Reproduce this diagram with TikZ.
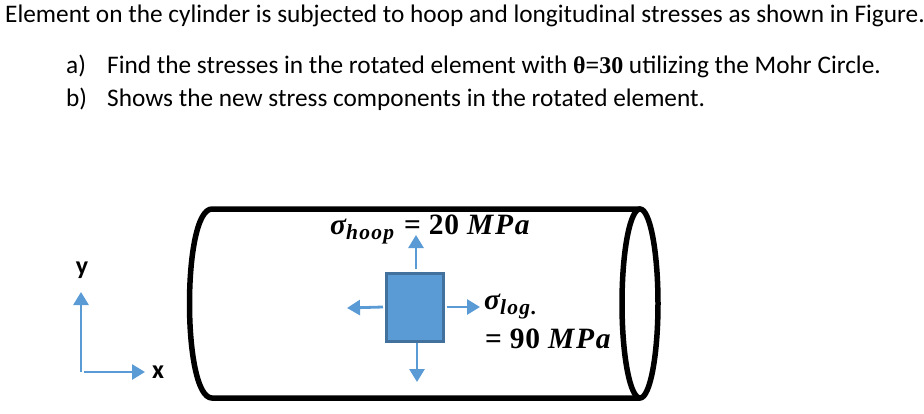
\documentclass[tikz,border=0pt]{standalone}
\usepackage{fontspec}
\usetikzlibrary{arrows.meta}
\setmainfont{Carlito}
\newfontfamily\stressfont[BoldItalicFont={Liberation Serif Bold Italic}]{Liberation Serif}
\newfontfamily\stressmath[LetterSpace=6]{Liberation Serif Bold Italic}
\newfontfamily\stressnum[LetterSpace=2]{Liberation Serif Bold}
\definecolor{elemblue}{HTML}{5B9BD5}
\definecolor{elemedge}{HTML}{41719C}

\begin{document}
\begin{tikzpicture}
	[x=1pt, y=-1pt,
	line node/.style={anchor=base west, inner sep=0pt, font=\fontsize{25.3}{28}\selectfont},
	stress node/.style={anchor=base west, inner sep=0pt, font=\fontsize{29.5}{32}\selectfont},
	axis node/.style={inner sep=0pt, font=\bfseries\fontsize{26}{28}\selectfont},
	stress arrow/.style={draw=elemblue, line width=2.8pt, -{Triangle[length=13pt, width=15pt]}}]
	\useasboundingbox (0, 0) rectangle (924, 413);
	% heading
	\node[line node] (title) at (5, 22) {Element on the cylinder is subjected to hoop and longitudinal stresses as shown in Figure.};
	\node[line node] (parta) at (66, 73) {a)};
	\node[line node] (texta) at (107, 73) {Find the stresses in the rotated element with {\stressfont\bfseries\fontsize{24}{28}\selectfont θ=30} utilizing the Mohr Circle.};
	\node[line node] (partb) at (66, 106) {b)};
	\node[line node] (textb) at (107, 106) {Shows the new stress components in the rotated element.};
	% cylinder
	\draw[line width=5.5pt] (640, 209) -- (212, 209) .. controls (182, 209) and (182, 398) .. (212, 398) -- (640, 398);
	\draw[line width=5.5pt] (640, 303.5) ellipse (18 and 94.5);
	% element and stresses
	\node[draw=elemedge, fill=elemblue, line width=3pt, minimum width=57pt, minimum height=68pt, inner sep=0pt] (elem) at (414.5, 307) {};
	\coordinate (up) at (416, 235);
	\coordinate (down) at (417, 382);
	\coordinate (left) at (347, 308);
	\coordinate (right) at (480, 307);
	\draw[stress arrow] (416, 269) -- (up);
	\draw[stress arrow] (417, 343) -- (down);
	\draw[stress arrow] (elem.west) ++(-1.5, 0) -- (left);
	\draw[stress arrow] (elem.east) ++(2, 0) -- (right);
	\node[stress node] (hoop) at (330, 234) {\stressmath σ\raisebox{-5pt}{\fontsize{21.5}{24}\selectfont hoop}};
	\node[stress node] (hoopval) at (404, 234) {\stressnum = 20 \stressmath MPa};
	\node[stress node] (log) at (484, 309) {\stressmath σ\raisebox{-5pt}{\fontsize{21.5}{24}\selectfont log.}};
	\node[stress node] (logval) at (485, 348) {\stressnum = 90 \stressmath MPa};
	% axes
	\coordinate (origin) at (81, 372);
	\coordinate (yend) at (81, 292);
	\coordinate (xend) at (145, 372);
	\draw[stress arrow] (origin) -- (yend);
	\draw[stress arrow] (origin) ++(3, 0) -- (xend);
	\node[axis node] (ylab) at (82, 270) {y};
	\node[axis node] (xlab) at (158, 372) {x};
\end{tikzpicture}
\end{document}
